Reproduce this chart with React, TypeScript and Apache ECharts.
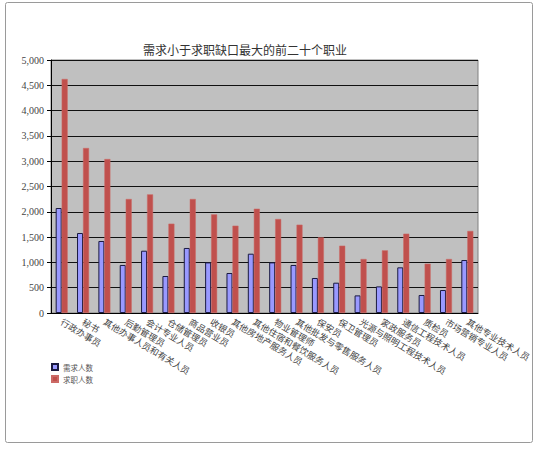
import React, { useEffect, useRef } from "react";
import * as echarts from "echarts";

const titleText = "需求小于求职缺口最大的前二十个职业";
const categories = [
  "行政办事员",
  "秘书",
  "其他办事人员和有关人员",
  "后勤管理员",
  "会计专业人员",
  "仓储管理员",
  "商品营业员",
  "收银员",
  "其他房地产服务人员",
  "其他住宿和餐饮服务人员",
  "物业管理师",
  "其他批发与零售服务人员",
  "保安员",
  "保卫管理员",
  "光源与照明工程技术人员",
  "家政服务员",
  "通信工程技术人员",
  "质检员",
  "市场营销专业人员",
  "其他专业技术人员",
];
const seriesNames = ["需求人数", "求职人数"];
const demand = [2075, 1581, 1423, 949, 1231, 731, 1285, 1000, 790, 1172, 1000, 949, 692, 599, 348, 526, 902, 356, 454, 1047];
const seekers = [4625, 3261, 3043, 2253, 2344, 1765, 2253, 1949, 1725, 2061, 1858, 1745, 1495, 1330, 1067, 1238, 1567, 974, 1067, 1621];
const yMin = 0;
const yMax = 5000;
const yInterval = 500;

const cjk = "'Noto Sans CJK SC', sans-serif";
const serif = "'Liberation Serif', 'DejaVu Serif', serif";

export default function App() {
  const ref = useRef<HTMLDivElement>(null);
  useEffect(() => {
    if (!ref.current) return;
    const chart = echarts.init(ref.current, null, { renderer: "svg" });
    chart.setOption({
      animation: false,
      backgroundColor: "#ffffff",
      graphic: [
        {
          type: "rect",
          shape: { x: 5.5, y: 2.5, width: 527, height: 440, r: 2 },
          style: { fill: "none", stroke: "#9a9a9a", lineWidth: 1 },
          z: 0,
        },
      ],
      title: {
        text: titleText,
        left: 138,
        top: 38,
        textStyle: { fontSize: 12, fontWeight: "normal", color: "#333", fontFamily: cjk },
      },
      legend: {
        orient: "vertical",
        left: 46,
        top: 358,
        itemWidth: 6,
        itemHeight: 6,
        itemGap: 4,
        icon: "rect",
        textStyle: { fontSize: 7.5, color: "#555", fontFamily: cjk },
        data: seriesNames,
      },
      grid: {
        left: 51,
        right: 62,
        top: 60,
        bottom: 137,
        show: true,
        backgroundColor: "#c0c0c0",
        borderColor: "#808080",
        borderWidth: 1,
      },
      xAxis: {
        type: "category",
        data: categories,
        axisLine: { lineStyle: { color: "#000", width: 1 } },
        axisTick: { inside: true, length: 3, alignWithLabel: false, lineStyle: { color: "#000" } },
        axisLabel: {
          interval: 0,
          rotate: -31,
          margin: 8,
          fontSize: 9,
          color: "#444",
          fontFamily: cjk,
        },
      },
      yAxis: {
        type: "value",
        min: yMin,
        max: yMax,
        interval: yInterval,
        axisLine: { show: true, lineStyle: { color: "#000", width: 1 } },
        axisTick: { show: true, length: 4, lineStyle: { color: "#000" } },
        axisLabel: {
          margin: 7,
          fontSize: 10,
          color: "#444",
          fontFamily: serif,
          formatter: (v: number) => v.toLocaleString("en-US"),
        },
        splitLine: { show: true, lineStyle: { color: "#111", width: 1 } },
      },
      series: [
        {
          name: seriesNames[0],
          type: "bar",
          data: demand,
          barWidth: 6,
          barGap: "0%",
          itemStyle: { color: "#9999ff", borderColor: "#1a1a40", borderWidth: 1 },
        },
        {
          name: seriesNames[1],
          type: "bar",
          data: seekers,
          barWidth: 6,
          itemStyle: { color: "#c0504d", borderColor: "#cc6a66", borderWidth: 0.5 },
        },
      ],
    });
    return () => chart.dispose();
  }, []);
  return (
    <div
      ref={ref}
      style={{ position: "absolute", left: 0, top: 0, width: 540, height: 450 }}
    />
  );
}
